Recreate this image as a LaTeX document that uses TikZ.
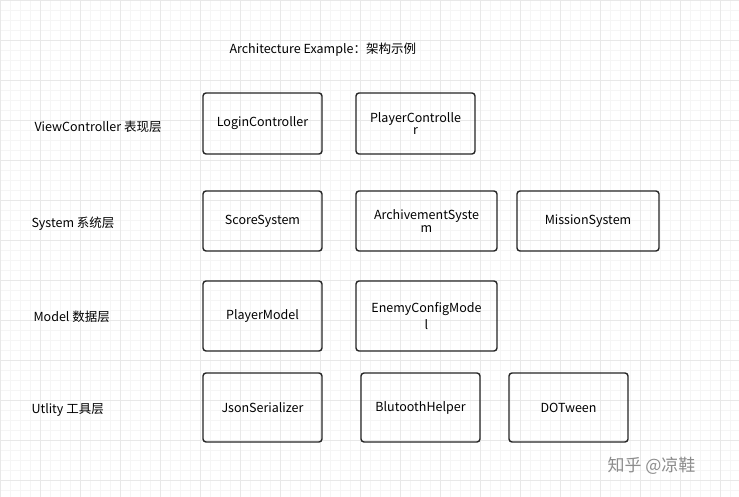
\documentclass[tikz,border=0pt]{standalone}
\usepackage{fontspec}
\setmainfont{Noto Sans CJK SC}
\begin{document}
\begin{tikzpicture}[x=1pt,y=-1pt,
  box/.style={draw=black!85,line width=1.4pt,rounded corners=3pt,align=center,font=\fontsize{12.5}{16}\selectfont},
  lbl/.style={anchor=west,font=\fontsize{12.5}{16}\selectfont}]
\useasboundingbox (0,0) rectangle (739,497);
\fill[white] (0,0) rectangle (739,497);
\foreach \i in {0,10,...,739} \draw[black!4,line width=0.5pt] (\i,0) -- (\i,497);
\foreach \j in {0,10,...,497} \draw[black!4,line width=0.5pt] (0,\j) -- (739,\j);
\foreach \i in {0,40,...,739} \draw[black!9,line width=0.6pt] (\i,0) -- (\i,497);
\foreach \j in {0,40,...,497} \draw[black!9,line width=0.6pt] (0,\j) -- (739,\j);
\newcommand{\bx}[6]{\node[box,minimum width=#4-#2,minimum height=#5-#3] (#1) at ({(#2+#4)/2},{(#3+#5)/2}) {\raisebox{-2pt}{\shortstack{#6}}};}
\node[lbl] (title) at (226,50) {Architecture Example：架构示例};
\node[lbl] (l1) at (31,127) {ViewController 表现层};
\node[lbl] (l2) at (28,224) {System 系统层};
\node[lbl] (l3) at (30,317) {Model 数据层};
\node[lbl] (l4) at (28,410) {Utlity 工具层};
\bx{a}{203}{93}{322}{154}{LoginController}
\bx{b}{356}{93}{475}{154}{PlayerControlle\\r}
\bx{c}{203}{191}{322}{251}{ScoreSystem}
\bx{d}{356}{191}{497}{251}{ArchivementSyste\\m}
\bx{e}{517}{191}{659}{251}{MissionSystem}
\bx{f}{203}{281}{322}{351}{PlayerModel}
\bx{g}{356}{281}{497}{351}{EnemyConfigMode\\l}
\bx{h}{203}{373}{322}{442}{JsonSerializer}
\bx{i}{361}{373}{480}{442}{BlutoothHelper}
\bx{j}{509}{373}{628}{442}{DOTween}
\node[anchor=west,text=black!45,font=\fontsize{17}{20}\selectfont] (wm) at (604,466) {知乎 @凉鞋};
\end{tikzpicture}
\end{document}
